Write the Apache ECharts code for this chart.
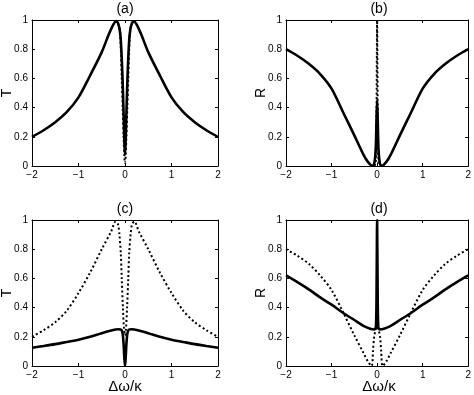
<!DOCTYPE html>
<html><head><meta charset="utf-8">
<script src="https://cdn.jsdelivr.net/npm/echarts@6/dist/echarts.min.js"></script>
<style>html,body{margin:0;padding:0;background:#fff}#c{width:474px;height:395px}</style>
</head><body><div id="c"></div>
<script>
const xTicks = [-2, -1, 0, 1, 2];
const yTicks = [0, 0.2, 0.4, 0.6, 0.8, 1];
const panelTitles = ['(a)', '(b)', '(c)', '(d)'];
const yNames = ['T', 'R', 'T', 'R'];
const xName = 'Δω/κ';

// (a) T
const aSolidX = [-2,-1.75,-1.5,-1.25,-1,-0.75,-0.5,-0.35,-0.25,-0.2,-0.15,-0.1,-0.065,-0.043,-0.025,-0.012,0,0.012,0.025,0.043,0.065,0.1,0.15,0.2,0.25,0.35,0.5,0.75,1,1.25,1.5,1.75,2];
const aSolidY = [0.2,0.245,0.3,0.37,0.47,0.62,0.78,0.9,0.97,0.99,0.98,0.9,0.7,0.5,0.3,0.15,0.08,0.15,0.3,0.5,0.7,0.9,0.98,0.99,0.97,0.9,0.78,0.62,0.47,0.37,0.3,0.245,0.2];
const aDotX = [-0.2,-0.12,-0.09,-0.07,-0.05,-0.03,-0.015,0,0.015,0.03,0.05,0.07,0.09,0.12,0.2];
const aDotY = [1,0.95,0.8,0.6,0.4,0.2,0.07,0.02,0.07,0.2,0.4,0.6,0.8,0.95,1];

// (b) R
const bSolidX = [-2,-1.75,-1.5,-1.25,-1,-0.75,-0.5,-0.35,-0.25,-0.15,-0.1,-0.06,-0.03,-0.015,0,0.015,0.03,0.06,0.1,0.15,0.25,0.35,0.5,0.75,1,1.25,1.5,1.75,2];
const bSolidY = [0.8,0.755,0.7,0.63,0.53,0.37,0.21,0.11,0.05,0.01,0,0.02,0.12,0.3,0.45,0.3,0.12,0.02,0,0.01,0.05,0.11,0.21,0.37,0.53,0.63,0.7,0.755,0.8];
const bDotX = [-0.06,-0.03,-0.015,-0.005,0,0.005,0.015,0.03,0.06];
const bDotY = [0,0.02,0.3,0.8,1,0.8,0.3,0.02,0];

// (c) T
const cSolidX = [-2,-1.75,-1.5,-1.25,-1,-0.75,-0.5,-0.3,-0.15,-0.08,-0.05,-0.03,-0.015,0,0.015,0.03,0.05,0.08,0.15,0.3,0.5,0.75,1,1.25,1.5,1.75,2];
const cSolidY = [0.125,0.137,0.15,0.165,0.18,0.2,0.225,0.243,0.252,0.248,0.22,0.15,0.06,0,0.06,0.15,0.22,0.248,0.252,0.243,0.225,0.2,0.18,0.165,0.15,0.137,0.125];
const cDotX = [-2,-1.75,-1.5,-1.25,-1,-0.75,-0.5,-0.3,-0.2,-0.15,-0.12,-0.09,-0.07,-0.045,-0.02,0,0.02,0.045,0.07,0.09,0.12,0.15,0.2,0.3,0.5,0.75,1,1.25,1.5,1.75,2];
const cDotY = [0.2,0.245,0.3,0.38,0.5,0.64,0.8,0.92,0.99,0.97,0.9,0.77,0.6,0.4,0.25,0.21,0.25,0.4,0.6,0.77,0.9,0.97,0.99,0.92,0.8,0.64,0.5,0.38,0.3,0.245,0.2];

// (d) R
const dSolidX = [-2,-1.75,-1.5,-1.25,-1,-0.75,-0.5,-0.3,-0.15,-0.06,-0.025,-0.01,0,0.01,0.025,0.06,0.15,0.3,0.5,0.75,1,1.25,1.5,1.75,2];
const dSolidY = [0.62,0.575,0.525,0.47,0.42,0.365,0.315,0.275,0.255,0.25,0.27,0.6,1,0.6,0.27,0.25,0.255,0.275,0.315,0.365,0.42,0.47,0.525,0.575,0.62];
const dDotX = [-2,-1.75,-1.5,-1.25,-1,-0.75,-0.5,-0.3,-0.2,-0.12,-0.09,-0.065,-0.03,0,0.03,0.065,0.09,0.12,0.2,0.3,0.5,0.75,1,1.25,1.5,1.75,2];
const dDotY = [0.8,0.755,0.7,0.62,0.52,0.37,0.21,0.09,0.03,0,0.1,0.2,0.25,0.27,0.25,0.2,0.1,0,0.03,0.09,0.21,0.37,0.52,0.62,0.7,0.755,0.8];

const panels = [
  {sx: aSolidX, sy: aSolidY, dx: aDotX, dy: aDotY},
  {sx: bSolidX, sy: bSolidY, dx: bDotX, dy: bDotY},
  {sx: cSolidX, sy: cSolidY, dx: cDotX, dy: cDotY},
  {sx: dSolidX, sy: dSolidY, dx: dDotX, dy: dDotY}
];

const FONT = '"Liberation Sans", Arial, Helvetica, sans-serif';
const gridPos = [
  {left: 32, top: 20}, {left: 286, top: 20},
  {left: 32, top: 220}, {left: 286, top: 220}
];
const GW = 186, GH = 146;

const pair = (xs, ys) => xs.map((x, i) => [x, ys[i]]);
const fmt = v => String(v).replace('-', '\u2212');

const grid = [], xAxis = [], yAxis = [], series = [], graphic = [];
gridPos.forEach((g, i) => {
  grid.push({left: g.left, top: g.top, width: GW, height: GH, show: false});
  const axLine = {show: true, onZero: false, lineStyle: {color: '#000', width: 1}};
  const tick = {show: true, inside: true, length: 3, lineStyle: {color: '#000', width: 1}};
  xAxis.push({gridIndex: i, type: 'value', position: 'bottom', min: xTicks[0], max: xTicks[xTicks.length-1], interval: 1,
    axisLine: axLine, axisTick: tick, splitLine: {show: false},
    axisLabel: {show: true, color: '#000', fontSize: 10, fontFamily: FONT, margin: 4, formatter: fmt}});
  xAxis.push({gridIndex: i, type: 'value', position: 'top', min: xTicks[0], max: xTicks[xTicks.length-1], interval: 1,
    axisLine: axLine, axisTick: tick, splitLine: {show: false}, axisLabel: {show: false}});
  yAxis.push({gridIndex: i, type: 'value', position: 'left', min: yTicks[0], max: yTicks[yTicks.length-1], interval: 0.2,
    axisLine: axLine, axisTick: tick, splitLine: {show: false},
    axisLabel: {show: true, color: '#000', fontSize: 10, fontFamily: FONT, margin: 4}});
  yAxis.push({gridIndex: i, type: 'value', position: 'right', min: yTicks[0], max: yTicks[yTicks.length-1], interval: 0.2,
    axisLine: axLine, axisTick: tick, splitLine: {show: false}, axisLabel: {show: false}});

  const p = panels[i];
  series.push({type: 'line', xAxisIndex: 2*i, yAxisIndex: 2*i, data: pair(p.sx, p.sy),
    symbol: 'none', smooth: 0.3, lineStyle: {color: '#000', width: 2.6}, z: 3});
  series.push({type: 'line', xAxisIndex: 2*i, yAxisIndex: 2*i, data: pair(p.dx, p.dy),
    symbol: 'none', smooth: 0.3, lineStyle: {color: '#000', width: 2, type: [2, 2.5], cap: 'butt'}, z: 4});

  graphic.push({type: 'text', x: g.left + GW/2, y: g.top - 11,
    style: {text: panelTitles[i], font: '14px ' + FONT, fill: '#000', textAlign: 'center', textVerticalAlign: 'middle'}});
  graphic.push({type: 'text', x: g.left - 25, y: g.top + GH/2, rotation: Math.PI/2,
    style: {text: yNames[i], font: '14px ' + FONT, fill: '#000', textAlign: 'center', textVerticalAlign: 'middle'}});
  if (i >= 2) {
    graphic.push({type: 'text', x: g.left + GW/2, y: g.top + GH + 21,
      style: {text: xName, font: '15px ' + FONT, fill: '#000', textAlign: 'center', textVerticalAlign: 'middle'}});
  }
});

const chart = echarts.init(document.getElementById('c'), null, {renderer: 'canvas'});
chart.setOption({animation: false, backgroundColor: '#fff', grid, xAxis, yAxis, series, graphic});
</script></body></html>
